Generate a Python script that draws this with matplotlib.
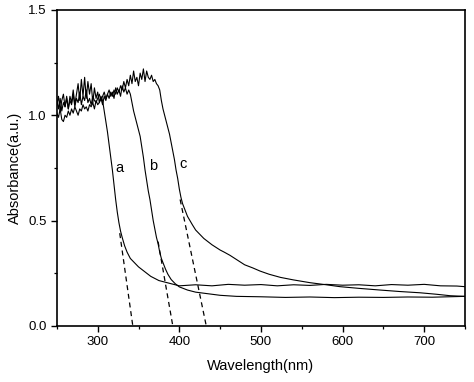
import matplotlib
matplotlib.use("Agg")
import matplotlib.pyplot as plt
from matplotlib.ticker import MultipleLocator

plt.rcParams['font.family'] = ['Liberation Sans', 'DejaVu Sans']

# ---- curve a ----
wl_a = list(range(250, 308, 2)) + [308, 310, 312, 314, 316, 318, 320, 322, 324, 326, 328, 330,
        333, 336, 340, 345, 350, 355, 360, 365, 370, 375, 380, 385, 390, 395, 400,
        420, 440, 460, 480, 500, 520, 540, 560, 580, 600, 620, 640, 660, 680, 700, 720, 740, 750]
abs_a = [1.05, 1.09, 1.02, 1.07, 1.10, 1.04, 1.08, 1.03, 1.09, 1.06, 1.12, 1.05, 1.10, 1.15,
         1.07, 1.17, 1.09, 1.18, 1.08, 1.16, 1.10, 1.15, 1.06, 1.13, 1.08, 1.11, 1.06, 1.09, 1.07,
         1.02, 0.97, 0.92, 0.86, 0.80, 0.74, 0.67, 0.60, 0.54, 0.49, 0.45, 0.42,
         0.38, 0.35, 0.32, 0.30, 0.28, 0.265, 0.25, 0.235, 0.225, 0.215, 0.21, 0.205, 0.20, 0.195, 0.19,
         0.195, 0.19, 0.197, 0.193, 0.196, 0.19, 0.195, 0.192, 0.197, 0.193, 0.195, 0.19, 0.196,
         0.193, 0.197, 0.19, 0.189, 0.186]

# ---- curve b ----
wl_b = list(range(250, 342, 2)) + [342, 344, 346, 348, 350, 352, 354, 356, 358, 360, 362, 364,
        366, 368, 370, 372, 374, 376, 378, 380, 383, 386, 390, 395, 400, 410, 420, 430, 440, 450,
        470, 500, 530, 560, 590, 620, 650, 680, 710, 740, 750]
abs_b = [1.07, 1.03, 1.08, 1.02, 1.06, 1.04, 1.09, 1.03, 1.07, 1.05,
         1.10, 1.04, 1.08, 1.06, 1.11, 1.05, 1.09, 1.07, 1.12, 1.06,
         1.08, 1.05, 1.09, 1.07, 1.06, 1.08, 1.10, 1.07, 1.09, 1.11,
         1.08, 1.10, 1.12, 1.09, 1.11, 1.08, 1.13, 1.10, 1.12, 1.09,
         1.14, 1.11, 1.13, 1.10, 1.12, 1.10,
         1.06, 1.02, 0.99, 0.96, 0.93, 0.90, 0.85, 0.80, 0.74, 0.69, 0.64, 0.60,
         0.55, 0.50, 0.46, 0.42, 0.39, 0.35, 0.32, 0.30, 0.27, 0.245, 0.22, 0.20, 0.185,
         0.17, 0.16, 0.155, 0.15, 0.145, 0.14, 0.138, 0.135, 0.137, 0.134, 0.136, 0.135,
         0.137, 0.136, 0.139, 0.14]

# ---- curve c ----
wl_c = list(range(250, 378, 2)) + [378, 380, 382, 384, 386, 388, 390, 392, 394, 396, 398, 400,
        402, 404, 406, 408, 410, 413, 416, 420, 425, 430, 435, 440, 446, 450, 455, 462, 468,
        474, 480, 490, 499, 510, 524, 540, 560, 580, 597, 620, 646, 670, 695, 715, 732, 750]
abs_c = [1.01, 0.99, 1.03, 0.98, 0.97, 1.00, 0.99, 1.02, 1.00, 1.03,
         1.01, 1.04, 1.02, 1.00, 1.03, 1.02, 1.05, 1.03, 1.04, 1.02,
         1.05, 1.04, 1.06, 1.03, 1.07, 1.05, 1.06, 1.08, 1.05, 1.09,
         1.07, 1.10, 1.08, 1.11, 1.09, 1.12, 1.10, 1.13, 1.11, 1.14,
         1.12, 1.16, 1.13, 1.17, 1.14, 1.19, 1.15, 1.21, 1.16, 1.18,
         1.14, 1.20, 1.17, 1.22, 1.16, 1.21, 1.18, 1.17, 1.19, 1.16,
         1.17, 1.15, 1.14, 1.12,
         1.07, 1.03, 1.00, 0.97, 0.94, 0.91, 0.87, 0.83, 0.79, 0.74, 0.70, 0.65,
         0.61, 0.58, 0.56, 0.54, 0.52, 0.50, 0.48, 0.455, 0.435, 0.415, 0.40, 0.385, 0.37,
         0.36, 0.35, 0.335, 0.32, 0.305, 0.29, 0.275, 0.26, 0.245, 0.23, 0.218, 0.205,
         0.195, 0.186, 0.178, 0.17, 0.163, 0.157, 0.15, 0.143, 0.14]

# ---- tangent (dashed) lines: start point and x-intercept ----
tan_a = ([327, 343], [0.44, 0.0])
tan_b = ([374, 392], [0.40, 0.0])
tan_c = ([401, 433], [0.60, 0.0])

labels = ['a', 'b', 'c']
label_pos = [(327, 0.75), (368, 0.76), (405, 0.77)]

fig = plt.figure(figsize=(4.74, 3.82), dpi=100)
ax = fig.add_axes([0.120, 0.147, 0.861, 0.827])

for wl, ab in [(wl_a, abs_a), (wl_b, abs_b), (wl_c, abs_c)]:
    ax.plot(wl, ab, color='black', lw=0.8)
for xs, ys in [tan_a, tan_b, tan_c]:
    ax.plot(xs, ys, color='black', lw=0.9, ls=(0, (4, 3)))
for t, (x, y) in zip(labels, label_pos):
    ax.text(x, y, t, fontsize=10.5, ha='center', va='center')

ax.set_xlim(250, 750)
ax.set_ylim(0, 1.5)
ax.xaxis.set_major_locator(MultipleLocator(100))
ax.xaxis.set_minor_locator(MultipleLocator(50))
ax.yaxis.set_major_locator(MultipleLocator(0.5))
ax.yaxis.set_minor_locator(MultipleLocator(0.25))
ax.yaxis.set_major_formatter(plt.FuncFormatter(lambda v, p: f"{v:.1f}"))
ax.tick_params(which='major', direction='out', length=4, width=1.0, labelsize=9.5)
ax.tick_params(which='minor', direction='out', length=2.5, width=0.9)
for s in ax.spines.values():
    s.set_linewidth(1.2)

ax.set_xlabel('Wavelength(nm)', fontsize=10.5, labelpad=8)
ax.set_ylabel('Absorbance(a.u.)', fontsize=10.5, labelpad=4)

fig.savefig('out.png', dpi=100)
